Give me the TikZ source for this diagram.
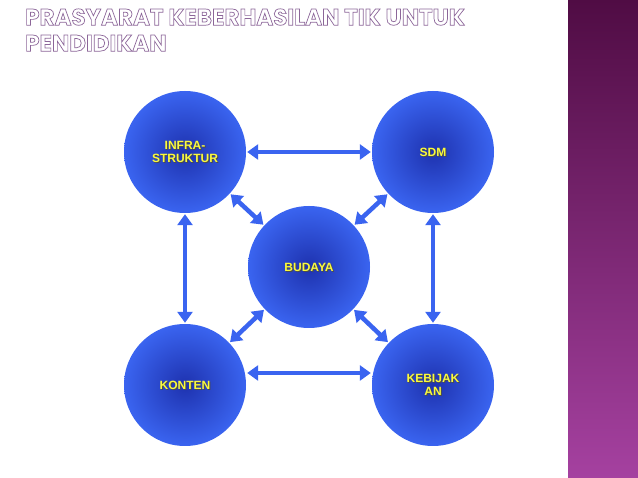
\documentclass[tikz,border=0pt]{standalone}
\usepackage{fontspec}
\setmainfont{Liberation Sans}
\newfontfamily\titlefont{Poppins}
\usetikzlibrary{arrows.meta}
\definecolor{cblue}{RGB}{58,100,240}
\definecolor{cdark}{RGB}{30,50,175}
\definecolor{ctext}{RGB}{250,250,60}
\definecolor{pdark}{RGB}{80,12,68}
\definecolor{plight}{RGB}{165,65,160}
\tikzset{
  circ/.style={circle,minimum size=122pt,inner sep=0pt,inner color=cdark,outer color=cblue,draw=none},
  lbl/.style={font=\bfseries\fontsize{12}{13}\selectfont,text=ctext,align=center},
  shd/.style={font=\bfseries\fontsize{12}{13}\selectfont,text=black!70,align=center},
  link/.style={draw=cblue,line width=4.5pt,{Triangle[width=15pt,length=11pt]}-{Triangle[width=15pt,length=11pt]},shorten <=1pt,shorten >=1pt},
}
\newcommand{\otl}[1]{\special{pdf:code q 1 Tr 0.7 w 0.55 0.4 0.6 RG}#1\special{pdf:code Q}}
\begin{document}
\begin{tikzpicture}[x=1pt,y=-1pt]
\useasboundingbox (0,0) rectangle (638,478);
\fill[white] (0,0) rectangle (638,478);
\shade[top color=pdark,bottom color=plight] (568,0) rectangle (638,478);
\node[anchor=west,font=\titlefont\bfseries\fontsize{23}{26}\selectfont,text=white,align=left,inner sep=0pt] (title) at (25,30) {\otl{PRASYARAT KEBERHASILAN TIK UNTUK}\\\otl{PENDIDIKAN}};
\node[circ] (inf) at (185,152) {};
\node[circ] (sdm) at (433,152) {};
\node[circ] (bud) at (309,267) {};
\node[circ] (kon) at (185,385) {};
\node[circ] (keb) at (433,385) {};
\foreach \n/\t in {inf/{INFRA-\\STRUKTUR},sdm/{SDM},bud/{BUDAYA},kon/{KONTEN},keb/{KEBIJAK\\AN}}{
  \node[shd] at ([shift={(1,1)}]\n) {\t};
  \node[lbl] at (\n) {\t};
}
\draw[link] (inf) -- (sdm);
\draw[link] (inf) -- (kon);
\draw[link] (sdm) -- (keb);
\draw[link] ([yshift=12pt]kon.east) -- ([yshift=12pt]keb.west);
\draw[link] (inf) -- (bud);
\draw[link] (sdm) -- (bud);
\draw[link] (kon) -- (bud);
\draw[link] (keb) -- (bud);
\end{tikzpicture}
\end{document}
